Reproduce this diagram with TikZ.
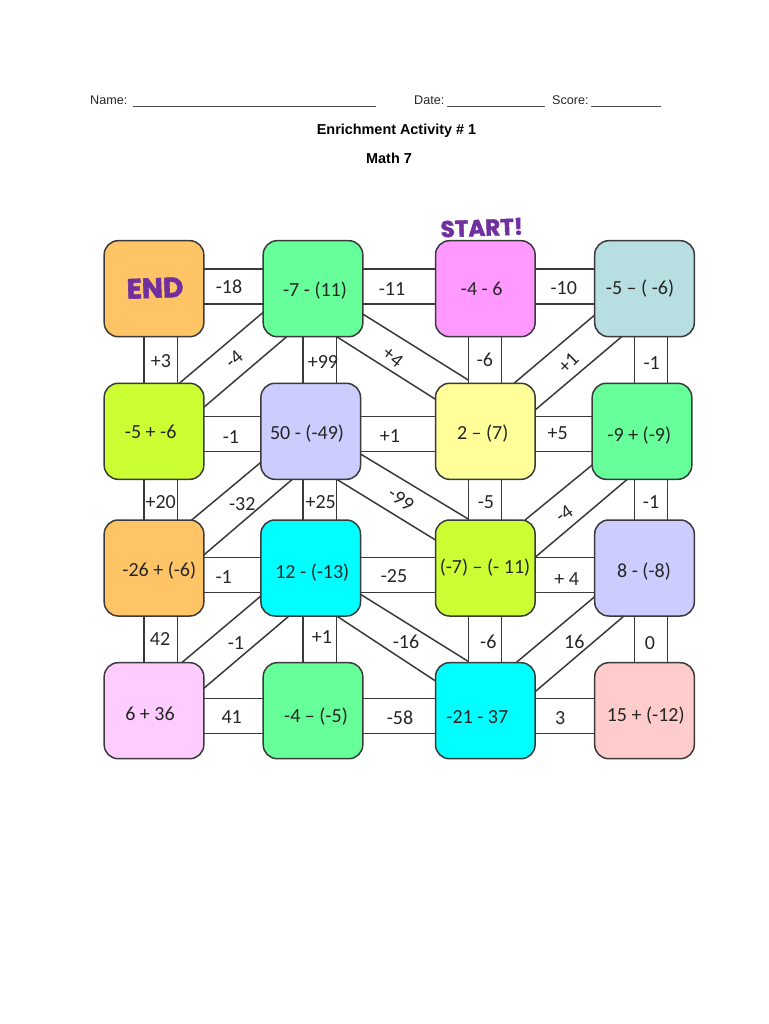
\documentclass[tikz,border=0pt]{standalone}
\usepackage{fontspec}
\setmainfont{Liberation Sans}
\newfontfamily\calfont{Carlito}
\newfontfamily\headfont[BoldFeatures={FakeBold=2}]{Poppins}
\definecolor{mgreen}{HTML}{66FF99}
\definecolor{morange}{HTML}{FFC465}
\definecolor{mpink}{HTML}{FF99FF}
\definecolor{mteal}{HTML}{B7DEE0}
\definecolor{mlime}{HTML}{CCFF33}
\definecolor{mlilac}{HTML}{CCCCFF}
\definecolor{myellow}{HTML}{FFFF99}
\definecolor{mcyan}{HTML}{00FFFF}
\definecolor{mrose}{HTML}{FFCCFF}
\definecolor{msalmon}{HTML}{FFCCCC}
\definecolor{mpurple}{HTML}{7030A0}
\definecolor{mline}{HTML}{3A3A3A}
\tikzset{
  mazebox/.style={draw=mline,line width=1.5pt,rounded corners=14pt,minimum width=99.6pt,
    minimum height=96pt,inner sep=0pt,outer sep=0pt},
  link/.style={draw=mline,line width=1.5pt},
  vals/.style={inner sep=0pt,yshift=-1pt,text=black!85,font=\calfont\fontsize{20}{24}\selectfont},
  head/.style={inner sep=0pt,text=black!85,font=\fontsize{12.6}{15}\selectfont},
  headb/.style={head,text=black,font=\bfseries\fontsize{14.4}{17}\selectfont},
  banner/.style={inner sep=0pt,text=mpurple}
}
\begin{document}
\begin{tikzpicture}[x=1pt,y=-1pt]
\useasboundingbox (0,0) rectangle (768,1024);
% page heading
\node[head,anchor=west] (name) at (90,100) {Name:};
\node[head,anchor=west] (date) at (414,100) {Date:};
\node[head,anchor=west] (score) at (552,100) {Score:};
\draw[link,line width=1.3pt,draw=black!70] ([shift={(5,2.5)}]name.base east) -- ++(243,0);
\draw[link,line width=1.3pt,draw=black!70] ([shift={(2.5,2.5)}]date.base east) -- ++(98,0);
\draw[link,line width=1.3pt,draw=black!70] ([shift={(2.5,2.5)}]score.base east) -- ++(70,0);
\node[headb] (title) at (396.5,131) {Enrichment Activity \# 1};
\node[headb] (course) at (389,158.5) {Math 7};
% boxes
\foreach \n/\x/\y/\c/\tx/\ty/\t in {
  n11/154/288.7/morange/154/288.7/{},
  n12/313/288.7/mgreen/315/289.5/{-7 - (11)},
  n13/485.3/288.7/mpink/481.7/288/{-4 - 6},
  n14/644.5/288.7/mteal/640/288/{-5 – ( -6)},
  n21/154/431.3/mlime/150.7/431/{-5 + -6},
  n22/310.7/431.3/mlilac/307/433/{50 - (-49)},
  n23/485.3/431.3/myellow/482.7/433/{2 – (7)},
  n24/642/431.3/mgreen/639.3/435/{-9 + (-9)},
  n31/154/568/morange/159.3/570/{-26 + (-6)},
  n32/310.7/568/mcyan/312.3/572/{12 - (-13)},
  n33/485.3/568/mlime/485/566.5/{(-7) – (- 11)},
  n34/644.5/568/mlilac/644/571/{8 - (-8)},
  n41/154/710.7/mrose/150/713/{6 + 36},
  n42/313/710.7/mgreen/316/716/{-4 – (-5)},
  n43/485.3/710.7/mcyan/477.3/716/{-21 - 37},
  n44/644.5/710.7/msalmon/645.7/715/{15 + (-12)}}
{
  \node[mazebox,fill=\c] (\n) at (\x,\y) {};
  \node[vals] (\n t) at (\tx,\ty) {\t};
}
\node[banner,font=\headfont\bfseries\fontsize{28}{32}\selectfont,rotate=2] (endword) at (155,288) {END};
\node[banner,font=\headfont\bfseries\fontsize{23}{28}\selectfont,rotate=2] (startword) at (481.7,227.7) {START!};
% across
\foreach \a/\b/\u/\l in {
  n11/n12/-19.7/15.3, n12/n13/-19.7/15.3, n13/n14/-19.7/15.3,
  n21/n22/-14.6/20.4, n22/n23/-14.6/20.4, n23/n24/-14.6/20.4,
  n31/n32/-10.7/24.7, n32/n33/-10.7/24.7, n33/n34/-10.7/24.7,
  n41/n42/-12.4/22.6, n42/n43/-12.4/22.6, n43/n44/-12.4/22.6}
{
  \draw[link] ([shift={(0,\u)}]\a.east) -- ([shift={(0,\u)}]\b.west);
  \draw[link] ([shift={(0,\l)}]\a.east) -- ([shift={(0,\l)}]\b.west);
}
% down
\foreach \a/\b/\u/\l in {
  n11/n21/-10/23.3, n21/n31/-10/23.3, n31/n41/-10/23.3,
  n12/n22/-10/23.3, n22/n32/-7.7/25.6, n32/n42/-7.7/25.6,
  n13/n23/-16.6/16.4, n23/n33/-16.6/16.4, n33/n43/-16.6/16.4,
  n14/n24/-10.2/22.8, n24/n34/-7.7/25.3, n34/n44/-10.2/22.8}
{
  \draw[link] ([shift={(\u,0)}]\a.south) -- ([shift={(\u,0)}]\a.south |- \b.north);
  \draw[link] ([shift={(\l,0)}]\a.south) -- ([shift={(\l,0)}]\a.south |- \b.north);
}
% slanted
\foreach \a/\ax/\ay/\b/\bx/\by in {
  n12/-49.8/23.6/n21/25.3/-48, n12/-26.3/48/n21/49.8/-24,
  n12/49.8/25.3/n23/-16.6/-51, n12/23.7/48/n23/-49.8/-32,
  n23/28.7/-48/n14/-49.8/26.3, n23/49.8/-21.3/n14/-22.8/48,
  n22/-49.8/31/n31/37.7/-48, n22/-18.4/48/n31/49.8/-13,
  n22/49.8/22.7/n33/-16.6/-48.7, n22/26/48/n33/-49.8/-28,
  n33/39.7/-48/n24/-49.8/33.7, n33/49.8/-10.7/n24/-14.7/48,
  n32/-49.8/28/n41/27.7/-48, n32/-21.7/48/n41/49.8/-22.4,
  n32/49.8/26.3/n43/-16.6/-49, n32/26/48/n43/-49.8/-29.7,
  n43/30.7/-48/n34/-49.8/28.7, n43/49.8/-19/n34/-20.5/48}
{
  \draw[link] ([shift={(\ax,\ay)}]\a.center) -- ([shift={(\bx,\by)}]\b.center);
}
% values on the links
\foreach \x/\y/\r/\t [count=\i] in {
  229/285.7/0/-18, 392/288/0/-11, 563.7/287.5/0/-10,
  161/359.7/0/+3, 234/358/40/-4, 323/361/0/+99, 393/356/-38/+4,
  485/359/0/-6, 568.3/362.3/45/+1, 651.7/362/0/-1,
  231/435.7/0/-1, 390/435/0/+1, 557.7/432/0/+5,
  160.7/500.7/0/+20, 242.3/503.3/0/-32, 320.7/501/0/+25, 401/498/-35/-99,
  486/501/0/-5, 564/512.7/35/-4, 651/501/0/-1,
  223.7/576/0/-1, 394/575/0/-25, 566.7/578.3/0/+ 4,
  160/637.7/0/42, 236/641.7/0/-1, 322/635.7/0/+1, 406/641/0/-16,
  488.3/641.3/0/-6, 574.3/641.3/0/16, 650/641.7/0/0,
  231.7/716/0/41, 400/717/0/-58, 560.3/716.7/0/3}
{
  \node[vals,rotate=\r] (lb\i) at (\x,\y) {\t};
}
\end{tikzpicture}
\end{document}
